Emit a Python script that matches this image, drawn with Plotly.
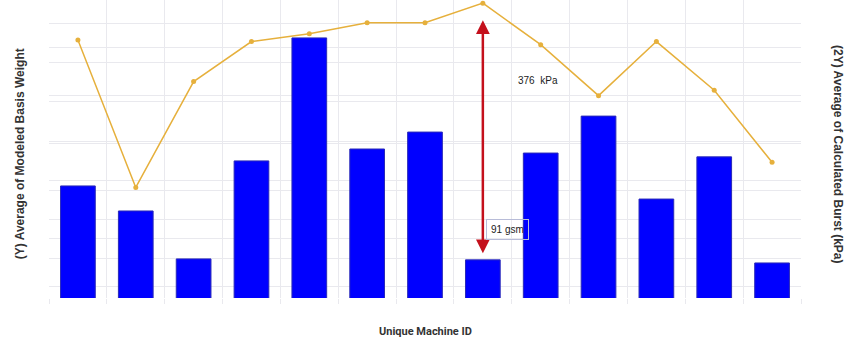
import plotly.graph_objects as go

machines = ["M01", "M02", "M03", "M04", "M05", "M06", "M07", "M08", "M09", "M10", "M11", "M12", "M13"]
basis_weight = [122.0, 111.5, 91.4, 132.5, 184.1, 137.5, 144.6, 91.0, 135.8, 151.3, 116.5, 134.2, 89.7]
burst_kpa = [329, 141, 276, 327, 337, 351, 351, 376, 323, 258, 327, 265, 173]

y_range = [75, 200]
y2_range = [0, 380]
hl_idx = 7  # machine with the highlighted gap

GRID = "#e9e9ee"

fig = go.Figure()
fig.add_trace(go.Bar(
    x=machines, y=basis_weight, yaxis="y",
    marker=dict(color="#0000ff", line=dict(color="#2a2ab8", width=1)),
    name="Average of Modeled Basis Weight",
))
fig.add_trace(go.Scatter(
    x=machines, y=burst_kpa, yaxis="y2", mode="lines+markers",
    line=dict(color="#e6b03c", width=1.5),
    marker=dict(color="#e6b03c", size=5),
    name="Average of Calculated Burst (kPa)",
))

# convert the highlighted bar top into y2 coordinates for the arrow tail
frac = (basis_weight[hl_idx] - y_range[0]) / (y_range[1] - y_range[0])
bar_top_y2 = y2_range[0] + frac * (y2_range[1] - y2_range[0])

annotations = [
    dict(x=machines[hl_idx], y=burst_kpa[hl_idx], xref="x", yref="y2",
         ax=machines[hl_idx], ay=bar_top_y2, axref="x", ayref="y2",
         showarrow=True, arrowhead=2, startarrowhead=2, arrowside="end+start",
         arrowsize=1.1, startarrowsize=1.1, arrowwidth=2.5, arrowcolor="#c4101c",
         standoff=17, startstandoff=5, text=""),
    dict(x=hl_idx + 0.95, y=burst_kpa[hl_idx] - 99, xref="x", yref="y2",
         text=f"{burst_kpa[hl_idx]}  kPa", showarrow=False,
         font=dict(family="Arial, Liberation Sans", size=10, color="#222")),
    dict(x=hl_idx + 0.42, y=basis_weight[hl_idx] + 12.6, xref="x", yref="y",
         text=f"{basis_weight[hl_idx]:.0f} gsm", showarrow=False,
         bordercolor="#b8bcd8", borderwidth=1, borderpad=4, bgcolor="rgba(255,255,255,0)",
         font=dict(family="Arial, Liberation Sans", size=10, color="#222")),
    dict(x=-0.025, y=0.5, xref="paper", yref="paper", xanchor="center", yanchor="middle",
         xshift=-10, yshift=-5, text="<b>(Y) Average of Modeled Basis Weight</b>", textangle=-90,
         showarrow=False, font=dict(family="Arial, Liberation Sans", size=12, color="#333")),
    dict(x=1.0, y=0.5, xref="paper", yref="paper", xanchor="center", yanchor="middle",
         xshift=37, yshift=-5, text="<b>(2Y) Average of Calculated Burst (kPa)</b>", textangle=90,
         showarrow=False, font=dict(family="Arial, Liberation Sans", size=12, color="#333")),
    dict(x=0.5, y=0, xref="paper", yref="paper", xanchor="center", yanchor="middle",
         yshift=-33, text="<b>Unique Machine ID</b>",
         showarrow=False, font=dict(family="Roboto, Arial", size=11, color="#333")),
]

fig.update_layout(
    width=847, height=347,
    margin=dict(l=49, r=46, t=0, b=49),
    paper_bgcolor="white", plot_bgcolor="white",
    showlegend=False, bargap=0.4,
    xaxis=dict(showticklabels=False, showgrid=True, gridcolor=GRID, tickson="boundaries",
               ticks="outside", ticklen=5, tickcolor=GRID, range=[-0.5, 12.5],
               showline=False, zeroline=False),
    yaxis=dict(range=y_range, dtick=20, tick0=0, showticklabels=False, showgrid=True,
               gridcolor=GRID, zeroline=False, showline=False),
    yaxis2=dict(range=y2_range, dtick=50, tick0=0, showticklabels=False, showgrid=True,
                gridcolor=GRID, zeroline=False, overlaying="y", side="right", showline=False),
    annotations=annotations,
)

fig.write_html("out.html")
